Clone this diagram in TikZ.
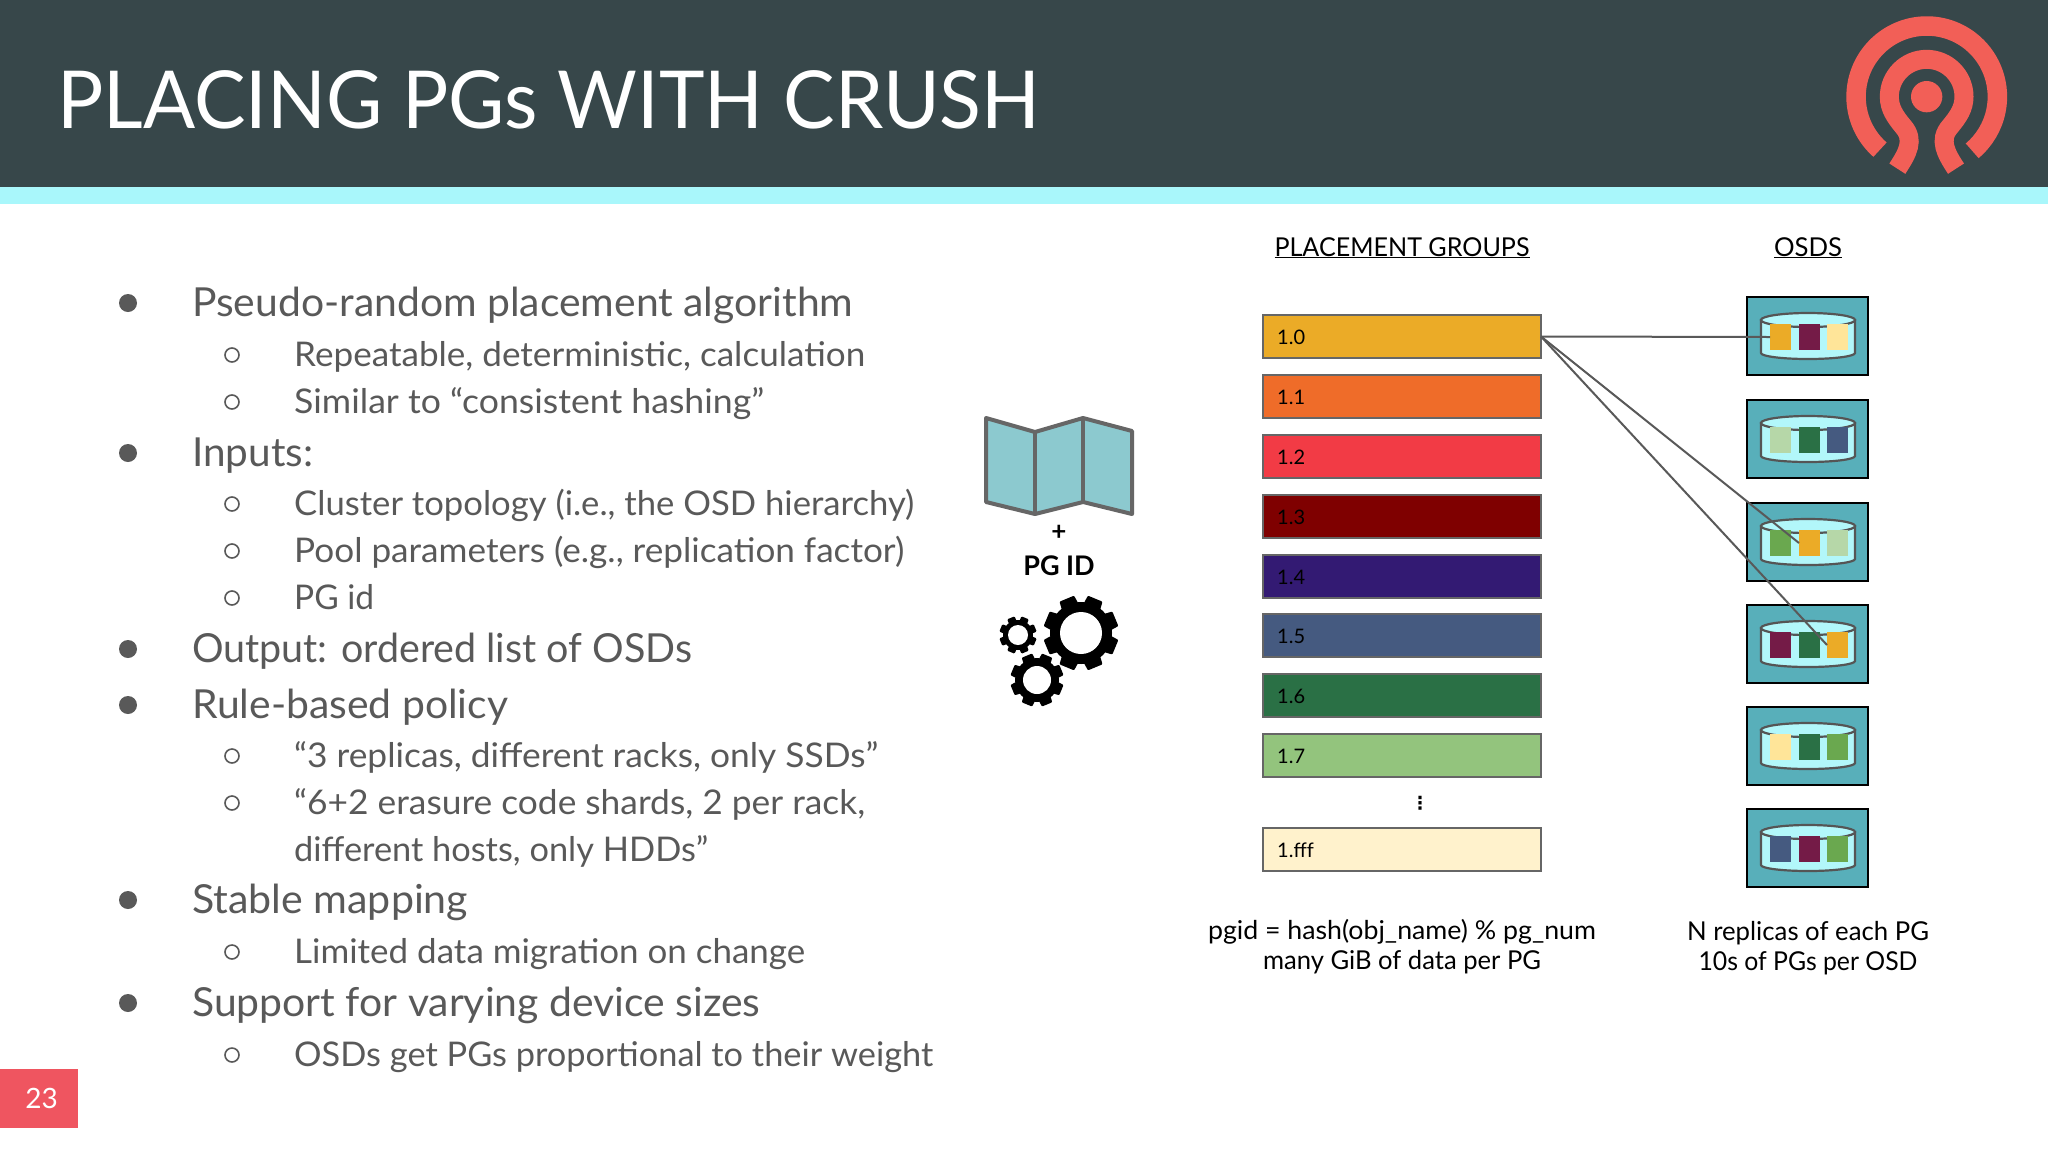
\documentclass[tikz,border=0pt]{standalone}
\usepackage{graphicx}
\usepackage{fontspec}
\setmainfont{Lato}
\newfontfamily\symfont{DejaVu Sans}
\definecolor{hdr}{HTML}{37474A}
\definecolor{band}{HTML}{A9F7FB}
\definecolor{txt}{HTML}{595959}
\definecolor{edge}{HTML}{666666}
\definecolor{tealbox}{HTML}{58AFBA}
\definecolor{cyl}{HTML}{B2F7FA}
\definecolor{cylline}{HTML}{555555}
\definecolor{cgold}{HTML}{EBAB27}
\definecolor{corange}{HTML}{EF6C29}
\definecolor{cred}{HTML}{F23B45}
\definecolor{cdarkred}{HTML}{7F0000}
\definecolor{cpurple}{HTML}{331A73}
\definecolor{cblue}{HTML}{455A80}
\definecolor{cdgreen}{HTML}{2A7045}
\definecolor{clgreen}{HTML}{93C47D}
\definecolor{ccream}{HTML}{FFF2CC}
\definecolor{cmaroon}{HTML}{741B47}
\definecolor{cyellow}{HTML}{FFE599}
\definecolor{cpale}{HTML}{B6D7A8}
\definecolor{cgreen}{HTML}{6AA84F}
\definecolor{logo}{HTML}{F25F57}
\definecolor{badge}{HTML}{EF5560}
\definecolor{mapfill}{HTML}{8CC9CF}
\newcommand{\fitw}[2]{\resizebox{#1pt}{\height}{#2}}
\tikzset{
  lone/.style={anchor=base west,inner sep=0pt,text=txt,font=\fontsize{40}{48}\selectfont},
  ltwo/.style={anchor=base west,inner sep=0pt,text=txt,font=\fontsize{34}{40}\selectfont},
  bulone/.style={circle,fill=txt,inner sep=0pt,minimum size=18pt},
  bultwo/.style={circle,draw=txt,line width=1.6pt,inner sep=0pt,minimum size=14pt},
  bar/.style={anchor=north west,draw=edge,line width=2.5pt,inner sep=0pt,outer sep=0pt,minimum width=278pt,minimum height=43pt},
  barlabel/.style={anchor=base west,inner sep=0pt,font=\fontsize{20}{24}\selectfont,text=black},
  headtext/.style={anchor=base,inner sep=0pt,font=\fontsize{26}{30}\selectfont,text=black},
  captext/.style={anchor=base,inner sep=0pt,font=\fontsize{26}{30}\selectfont,text=black},
  osdbox/.style={anchor=north west,draw=black,line width=2.6pt,fill=tealbox,inner sep=0pt,outer sep=0pt,minimum width=121pt,minimum height=78pt},
  slot/.style={anchor=north west,inner sep=0pt,outer sep=0pt,minimum width=21pt,minimum height=26pt},
  link/.style={draw=txt,line width=2pt},
}
\newcommand{\osdunit}[5]{%
  \node[osdbox] (box#1) at (1747,#2) {};
  \begin{scope}[shift={(0,#2)}]
    \filldraw[fill=cyl,draw=cylline,line width=2.2pt] (1761,23) -- (1761,56) arc[start angle=180,end angle=0,x radius=47,y radius=6] -- (1855,23) -- cycle;
    \filldraw[fill=cyl,draw=cylline,line width=2.2pt] (1808,23) ellipse[x radius=47,y radius=7];
    \node[slot,fill=#3] (o#1a) at (1770,27) {};
    \node[slot,fill=#4] (o#1b) at (1799,27) {};
    \node[slot,fill=#5] (o#1c) at (1827,27) {};
  \end{scope}}
\newcommand{\cog}[6]{% cx cy outer root hole halfangle
  \begin{scope}[shift={(#1,#2)}]
    \fill[black] (0,0) circle[radius=#4];
    \foreach \a in {0,45,...,315}
      \fill[black,rounded corners=1pt] ({\a+22.5-#6-5}:#4-1) -- ({\a+22.5-#6}:#3) -- ({\a+22.5+#6}:#3) -- ({\a+22.5+#6+5}:#4-1) -- cycle;
    \fill[white] (0,0) circle[radius=#5];
  \end{scope}}
\begin{document}
\begin{tikzpicture}[x=1pt,y=-1pt]
\useasboundingbox (0,0) rectangle (2048,1152);
\fill[white] (0,0) rectangle (2048,1152);
\fill[hdr] (0,0) rectangle (2048,187);
\fill[band] (0,187) rectangle (2048,204);
\node[anchor=base west,inner sep=0pt,text=white,font=\fontsize{80}{90}\selectfont] (title) at (57,128) {\fitw{983}{PLACING PGs WITH CRUSH}};
% logo
\begin{scope}[shift={(1820,0)},x=0.3333pt,y=-0.3333pt]
  \fill[logo] (320,290) circle[radius=47];
  \draw[logo,line width=19.5pt] (180,449) arc[start angle=131.4,end angle=410,radius=212];
  \draw[logo,line width=19pt] (232,506) .. controls (262,460) and (285,420) .. (250,380) .. controls (225,350) and (208,325) .. (208,290) arc[start angle=180,end angle=360,radius=112] .. controls (432,325) and (415,350) .. (390,380) .. controls (355,420) and (378,460) .. (408,506);
\end{scope}
% body text
\foreach \n/\y/\w/\t in {a/316/661/Pseudo-random placement algorithm,b/466/121/Inputs:,c/662/500/Output: ordered list of OSDs,d/718/316/Rule-based policy,e/913/276/Stable mapping,f/1016/568/Support for varying device sizes}{
  \node[lone] (t\n) at (192,\y) {\fitw{\w}{\t}};
  \node[bulone] (p\n) at (128,\y-13) {};
}
\foreach \n/\y/\w/\t in {a/366/571/{Repeatable, deterministic, calculation},b/413/470/Similar to “consistent hashing”,c/515/620/{Cluster topology (i.e., the OSD hierarchy)},d/562/610/{Pool parameters (e.g., replication factor)},e/609/80/PG id,f/767/584/{“3 replicas, different racks, only SSDs”},g/814/571/{“6+2 erasure code shards, 2 per rack,},i/963/511/Limited data migration on change,j/1066/639/OSDs get PGs proportional to their weight}{
  \node[ltwo] (s\n) at (294,\y) {\fitw{\w}{\t}};
  \node[bultwo] (q\n) at (232,\y-11) {};
}
\node[ltwo] (sh) at (294,861) {\fitw{414}{different hosts, only HDDs”}};
% map
\filldraw[fill=mapfill,draw=edge,line width=4pt,line join=round] (986,418) -- (1035,432) -- (1083,418) -- (1132,431) -- (1132,514) -- (1083,502) -- (1035,514) -- (986,502) -- cycle;
\draw[edge,line width=4pt] (1035,432) -- (1035,514);
\draw[edge,line width=4pt] (1083,418) -- (1083,502);
\node[anchor=center,inner sep=0pt,font=\fontsize{26}{30}\selectfont\bfseries] (plus) at (1059,533) {+};
\node[anchor=center,inner sep=0pt,font=\fontsize{27}{30}\selectfont\bfseries] (pgid) at (1059,566) {PG ID};
\cog{1081}{633}{38}{31}{21}{12}
\cog{1018}{635}{19}{15}{10}{12}
\cog{1037}{680}{27}{22}{14}{12}
% placement groups
\node[headtext] (hpg) at (1402,256) {\underline{\fitw{255}{PLACEMENT GROUPS}}};
\node[headtext] (hosd) at (1808,256) {\underline{\fitw{68}{OSDS}}};
\foreach \n/\t/\c/\y in {10/1.0/cgold/315,11/1.1/corange/375,12/1.2/cred/435,13/1.3/cdarkred/495,14/1.4/cpurple/555,15/1.5/cblue/614,16/1.6/cdgreen/674,17/1.7/clgreen/734,1f/1.fff/ccream/828}{
  \node[bar,fill=\c] (pg\n) at (1263,\y) {};
  \node[barlabel] (lb\n) at (1277,\y+29) {\t};
}
\node[inner sep=0pt,font=\symfont\bfseries\fontsize{18}{20}\selectfont] (dots) at (1420,803) {⋮};
\node[captext] (c1) at (1402,939) {\fitw{388}{pgid = hash(obj\_name) \% pg\_num}};
\node[captext] (c2) at (1402,969) {\fitw{278}{many GiB of data per PG}};
\node[captext] (c3) at (1808,940) {\fitw{242}{N replicas of each PG}};
\node[captext] (c4) at (1808,970) {\fitw{219}{10s of PGs per OSD}};
% OSDs
\osdunit{1}{297}{cgold}{cmaroon}{cyellow}
\osdunit{2}{400}{cpale}{cdgreen}{cblue}
\osdunit{3}{503}{cgreen}{cgold}{cpale}
\osdunit{4}{605}{cmaroon}{cdgreen}{cgold}
\osdunit{5}{707}{cyellow}{cdgreen}{cgreen}
\osdunit{6}{809}{cblue}{cmaroon}{cgreen}
\draw[link] (pg10.east) -- (o1a.west);
\draw[link] (pg10.east) -- (o3b.west);
\draw[link] (pg10.east) -- (o4c.west);
% badge
\node[anchor=north west,fill=badge,inner sep=0pt,outer sep=0pt,minimum width=78pt,minimum height=59pt,text=white,font=\fontsize{28}{32}\selectfont] (page) at (0,1069) {\hspace*{5pt}23};
\end{tikzpicture}
\end{document}
